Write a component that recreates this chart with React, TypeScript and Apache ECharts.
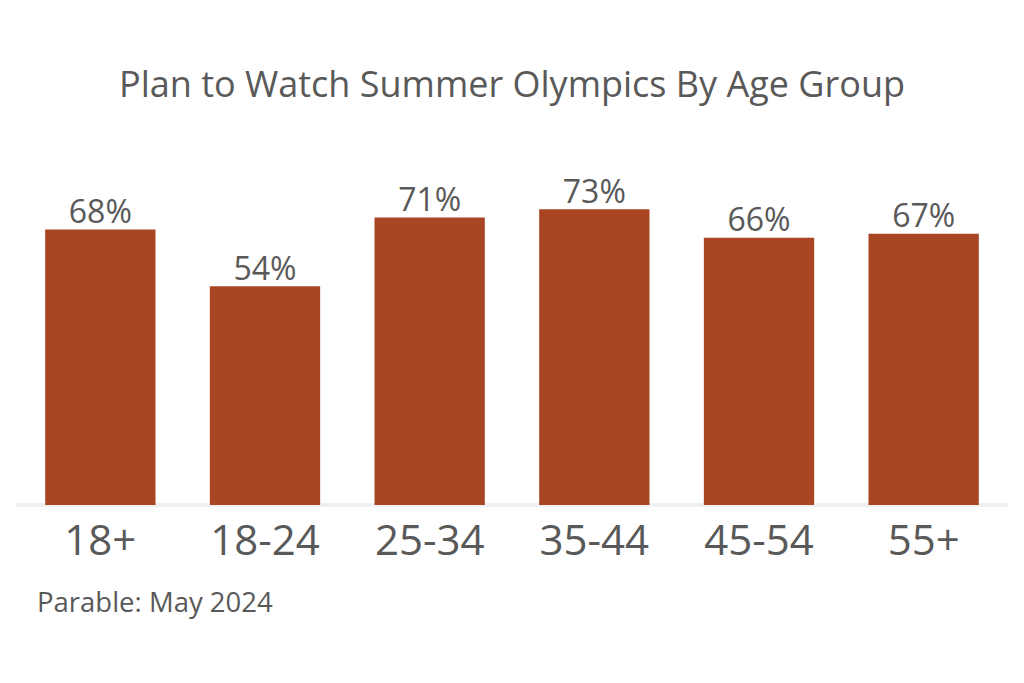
import React, { useEffect, useRef } from "react";
import * as echarts from "echarts";

const categories = ["18+", "18-24", "25-34", "35-44", "45-54", "55+"];
const values = [68, 54, 71, 73, 66, 67];
const titleText = "Plan to Watch Summer Olympics By Age Group";
const sourceText = "Parable: May 2024";

export default function App() {
  const ref = useRef<HTMLDivElement>(null);
  useEffect(() => {
    const chart = echarts.init(ref.current!, null, { renderer: "svg" });
    chart.setOption({
      animation: false,
      backgroundColor: "#ffffff",
      title: {
        text: titleText,
        left: "center",
        top: 60,
        textStyle: { fontFamily: "Open Sans", fontSize: 36, fontWeight: "normal", color: "#595959" },
      },
      graphic: [
        {
          type: "text",
          left: 37,
          top: 587,
          style: { text: sourceText, fontFamily: "Open Sans", fontSize: 27.5, fill: "#595959" },
        },
      ],
      grid: { left: 18, right: 18, top: 100, bottom: 178 },
      xAxis: {
        type: "category",
        data: categories,
        axisLine: { show: true, lineStyle: { color: "#eef0f2", width: 4 } },
        axisTick: { show: false },
        axisLabel: { fontFamily: "Open Sans", fontSize: 42, color: "#595959", margin: 12 },
      },
      yAxis: {
        type: "value",
        min: 0,
        max: 100,
        show: false,
        splitLine: { show: false },
      },
      series: [
        {
          type: "bar",
          data: values,
          barWidth: "67%",
          itemStyle: { color: "#A84624" },
          label: {
            show: true,
            position: "top",
            formatter: "{c}%",
            fontFamily: "Open Sans",
            fontSize: 32,
            color: "#595959",
            distance: 3,
          },
        },
      ],
    });
    return () => chart.dispose();
  }, []);
  return <div ref={ref} style={{ width: 1024, height: 683, position: "absolute", left: 0, top: 0 }} />;
}
